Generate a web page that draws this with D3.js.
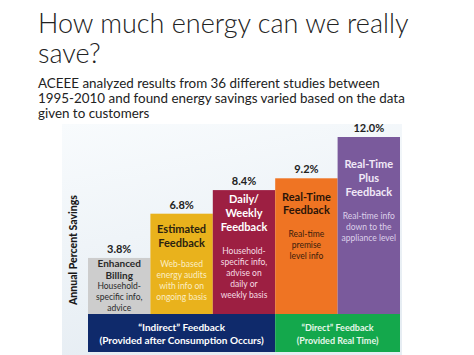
<!DOCTYPE html>
<html>
<head>
<meta charset="utf-8">
<script src="https://cdn.jsdelivr.net/npm/d3@7"></script>
<style>
  body { margin: 0; background: #fff; }
  text { font-family: Lato, "Open Sans", sans-serif; }
</style>
</head>
<body>
<div id="chart"></div>
<script>
// data
var categories = ["Enhanced Billing", "Estimated Feedback", "Daily/Weekly Feedback", "Real-Time Feedback", "Real-Time Plus Feedback"];
var savings = [3.8, 6.8, 8.4, 9.2, 12.0];
var valueLabels = ["3.8%", "6.8%", "8.4%", "9.2%", "12.0%"];
var titleLines = [["Enhanced", "Billing"], ["Estimated", "Feedback"], ["Daily/", "Weekly", "Feedback"], ["Real-Time", "Feedback"], ["Real-Time", "Plus", "Feedback"]];
var descLines = [
  ["Household-", "specific info,", "advice"],
  ["Web-based", "energy audits", "with info on", "ongoing basis"],
  ["Household-", "specific info,", "advise on", "daily or", "weekly basis"],
  ["Real-time", "premise", "level info"],
  ["Real-time info", "down to the", "appliance level"]
];
var groups = [
  { lines: ["\u201cIndirect\u201d Feedback", "(Provided after Consumption Occurs)"], from: 0, to: 2 },
  { lines: ["\u201cDirect\u201d Feedback", "(Provided Real Time)"], from: 3, to: 4 }
];

var svgWidth = 474, svgHeight = 355;
var barColors = ["#cdcdcd", "#e9b21c", "#9d1f42", "#ef7423", "#7a5a9c"];
var titleColors = ["#2a2a2a", "#2b2210", "#ffffff", "#2b1408", "#f1e9f7"];
var descColors = ["#2a2a2a", "#fbeec4", "#f6dde4", "#3a1c0c", "#ddd0ea"];
var groupColors = ["#0f2a6b", "#14a84c"];
var groupText = ["#ffffff", "#e6f7ea"];
// text layout inside the bars
var titleY = [267, 233, 203, 201, 168];
var titleStep = [12, 14, 14, 13, 14];
var descY = [289, 267, 254, 237, 219];
var titleSize = [10, 11, 11, 11, 11];

var svg = d3.select("#chart").append("svg")
  .attr("width", svgWidth)
  .attr("height", svgHeight);

// heading text
var heading = svg.append("g").attr("fill", "#222");
heading.append("text").attr("x", 38).attr("y", 33)
  .style("font-size", "27px").style("font-weight", 300)
  .text("How much energy can we really");
heading.append("text").attr("x", 38).attr("y", 63)
  .style("font-size", "27px").style("font-weight", 300)
  .text("save?");
["ACEEE analyzed results from 36 different studies between",
 "1995-2010 and found energy savings varied based on the data",
 "given to customers"].forEach(function(t, i) {
  heading.append("text").attr("x", 38).attr("y", 88 + i * 15)
    .style("font-size", "13.4px")
    .text(t);
});

// panel background
var defs = svg.append("defs");
var grad = defs.append("linearGradient").attr("id", "panelGrad")
  .attr("x1", 0).attr("y1", 0).attr("x2", 0.3).attr("y2", 1);
grad.append("stop").attr("offset", "0%").attr("stop-color", "#f8fbfd");
grad.append("stop").attr("offset", "100%").attr("stop-color", "#e6edf3");
svg.append("rect")
  .attr("x", 62).attr("y", 124).attr("width", 340).attr("height", 231)
  .attr("fill", "url(#panelGrad)");

// scales
var x = d3.scaleBand().domain(categories).range([88, 400]).padding(0);
var y = d3.scaleLinear().domain([0, 12]).range([314, 137]);

// bars
var bars = svg.selectAll(".bar").data(categories).enter().append("g").attr("class", "bar");
bars.append("rect")
  .attr("x", d => x(d))
  .attr("y", (d, i) => y(savings[i]))
  .attr("width", x.bandwidth())
  .attr("height", (d, i) => y(0) - y(savings[i]))
  .attr("fill", (d, i) => barColors[i]);

bars.append("text")
  .attr("x", d => x(d) + x.bandwidth() / 2)
  .attr("y", (d, i) => y(savings[i]) - 5)
  .attr("text-anchor", "middle")
  .style("font-size", "11px").style("font-weight", "bold")
  .attr("fill", "#222")
  .text((d, i) => valueLabels[i]);

bars.each(function(d, i) {
  var g = d3.select(this);
  var cx = x(d) + x.bandwidth() / 2;
  titleLines[i].forEach(function(t, j) {
    g.append("text").attr("x", cx).attr("y", titleY[i] + j * titleStep[i])
      .attr("text-anchor", "middle")
      .style("font-size", titleSize[i] + "px").style("font-weight", "bold")
      .attr("fill", titleColors[i])
      .text(t);
  });
  descLines[i].forEach(function(t, j) {
    g.append("text").attr("x", cx).attr("y", descY[i] + j * 11)
      .attr("text-anchor", "middle")
      .style("font-size", "8.5px")
      .attr("fill", descColors[i])
      .text(t);
  });
});

// bottom group boxes
var gb = svg.selectAll(".grp").data(groups).enter().append("g").attr("class", "grp");
gb.append("rect")
  .attr("x", d => x(categories[d.from]))
  .attr("y", y(0))
  .attr("width", d => x(categories[d.to]) + x.bandwidth() - x(categories[d.from]))
  .attr("height", 38)
  .attr("fill", (d, i) => groupColors[i]);
gb.each(function(d, i) {
  var g = d3.select(this);
  var cx = (x(categories[d.from]) + x(categories[d.to]) + x.bandwidth()) / 2;
  d.lines.forEach(function(t, j) {
    g.append("text")
      .attr("x", cx).attr("y", y(0) + 17 + j * 12.5)
      .attr("text-anchor", "middle")
      .style("font-size", i == 0 ? "10px" : "9px").style("font-weight", "bold")
      .attr("fill", groupText[i])
      .text(t);
  });
});

// axis title
svg.append("text")
  .attr("transform", "translate(77,250) rotate(-90)")
  .attr("text-anchor", "middle")
  .style("font-size", "10.5px").style("font-weight", 900)
  .attr("fill", "#1a1a1a")
  .text("Annual Percent Savings");
</script>
</body>
</html>
